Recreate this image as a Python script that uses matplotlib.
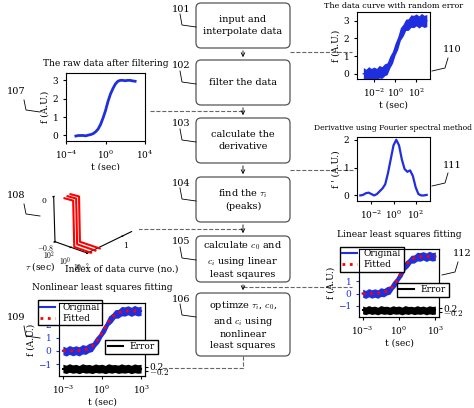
import numpy as np
import matplotlib
matplotlib.use("Agg")
import matplotlib.pyplot as plt
from matplotlib.patches import FancyBboxPatch
from mpl_toolkits.mplot3d import Axes3D  # noqa

plt.rcParams['font.family'] = 'DejaVu Serif'
plt.rcParams['mathtext.fontset'] = 'cm'
plt.rcParams['font.size'] = 6.5
plt.rcParams['xtick.major.size'] = 2
plt.rcParams['ytick.major.size'] = 2

W, H = 474, 408
# ---- data ----
logt = [-3, -2.75, -2.5, -2.25, -2, -1.75, -1.5, -1.25, -1, -0.75, -0.5, -0.25, 0,
        0.25, 0.5, 0.75, 1, 1.25, 1.5, 1.75, 2, 2.25, 2.5, 2.75, 3]
f_vals = [0, 0, 0, 0, 0, 0.02, 0.05, 0.1, 0.2, 0.35, 0.6, 0.95, 1.35, 1.8, 2.2,
          2.5, 2.72, 2.86, 2.94, 2.98, 3, 3, 3, 3, 3]
filt_vals = [-0.03, 0, 0, 0, -0.02, 0.02, 0.05, 0.1, 0.2, 0.35, 0.6, 0.95, 1.35,
             1.85, 2.25, 2.55, 2.8, 2.95, 3.0, 3.0, 2.98, 3.0, 3.0, 2.97, 2.95]
deriv_vals = [0, 0.02, 0.08, 0.1, 0.05, 0, 0.05, 0.15, 0.25, 0.4, 0.8, 1.3, 1.8,
              2.0, 1.8, 1.3, 0.95, 0.85, 0.9, 0.7, 0.3, 0.05, 0, 0, 0.02]
noise_up = [0.35, 0.25, 0.4, 0.3, 0.38, 0.28, 0.42, 0.3, 0.36, 0.27, 0.4, 0.32, 0.38,
            0.29, 0.41, 0.3, 0.37, 0.26, 0.4, 0.33, 0.39, 0.28, 0.42, 0.31, 0.36]
noise_dn = [0.3, 0.4, 0.27, 0.38, 0.3, 0.41, 0.29, 0.37, 0.32, 0.4, 0.28, 0.36, 0.3,
            0.42, 0.3, 0.38, 0.27, 0.4, 0.31, 0.37, 0.29, 0.41, 0.3, 0.38, 0.33]
err_up = [0.45, 0.35, 0.5, 0.38, 0.44, 0.32, 0.5, 0.4, 0.43, 0.34, 0.48, 0.39, 0.45,
          0.33, 0.5, 0.4, 0.42, 0.36, 0.49, 0.38, 0.45, 0.34, 0.48, 0.4, 0.44]
err_dn = [0.4, 0.48, 0.36, 0.46, 0.4, 0.5, 0.37, 0.45, 0.41, 0.49, 0.38, 0.44, 0.4,
          0.5, 0.39, 0.46, 0.37, 0.48, 0.41, 0.45, 0.38, 0.5, 0.4, 0.46, 0.42]
boxes = [("101", 3, 48, "input and\ninterpolate data"),
         ("102", 60, 105, "filter the data"),
         ("103", 118, 163, "calculate the\nderivative"),
         ("104", 177, 222, "find the $\\tau_i$\n(peaks)"),
         ("105", 236, 282, "calculate $c_0$ and\n$c_i$ using linear\nleast sqaures"),
         ("106", 293, 356, "optimze $\\tau_i$, $c_0$,\nand $c_i$ using\nnonlinear\nleast squares")]
side_labels = [("107", 16, 92), ("108", 16, 196), ("109", 16, 318),
               ("110", 452, 50), ("111", 452, 165), ("112", 462, 254)]
tau_peaks = [[-0.2, 0.6], [0.0, 0.8], [0.2, 1.0]]

t = 10.0 ** np.array(logt)
f = np.array(f_vals)
nu, nd = np.array(noise_up), np.array(noise_dn)
eu, ed = np.array(err_up), np.array(err_dn)

fig = plt.figure(figsize=(W / 100, H / 100), dpi=100)

def px(x0, y0, x1, y1):
    return [x0 / W, 1 - y1 / H, (x1 - x0) / W, (y1 - y0) / H]

ov = fig.add_axes([0, 0, 1, 1], zorder=0)
ov.set_xlim(0, W); ov.set_ylim(H, 0); ov.axis('off')
for lab, y0, y1, txt in boxes:
    ov.add_patch(FancyBboxPatch((196, y0), 94, y1 - y0, boxstyle="round,pad=0,rounding_size=5",
                                fc='white', ec='#555555', lw=0.9))
    ov.text(243, (y0 + y1) / 2, txt, ha='center', va='center', fontsize=7, linespacing=1.3)
    ov.text(172, y0 + 6, lab, ha='left', va='center', fontsize=7)
    ov.plot([180, 182, 196], [y0 + 11, y0 + 22, y0 + 24], color='k', lw=0.6)
for a, b in zip(boxes[:-1], boxes[1:]):
    ov.annotate("", xy=(243, b[1]), xytext=(243, a[2]),
                arrowprops=dict(arrowstyle='->', lw=0.6, color='k'))
for lab, x, y in side_labels:
    ov.text(x, y, lab, ha='center', va='center', fontsize=7)
dash = dict(color='#666666', lw=0.8, ls='--')
ov.plot([150, 243], [111, 111], **dash)
ov.plot([290, 352], [52, 52], **dash)
ov.plot([290, 355], [170, 170], **dash)
ov.plot([138, 243], [229, 229], **dash)
ov.plot([243, 352], [287, 287], **dash)
ov.plot([243, 243, 162], [356, 368, 368], **dash)
for (x0, y0, x1, y1) in [(24, 100, 40, 110), (24, 204, 40, 214), (24, 326, 40, 336)]:
    ov.plot([x0, x0 + 2, x1], [y0, y1, y1 + 2], color='k', lw=0.6)
for (x0, y0) in [(448, 58), (448, 173), (458, 262)]:
    ov.plot([x0, x0 - 3, x0 - 16], [y0, y0 + 10, y0 + 13], color='k', lw=0.6)

blue = '#1f2fe0'

# 107
a = fig.add_axes(px(66, 73, 145, 141))
a.plot(t, filt_vals, color=blue, lw=2)
a.set_xscale('log'); a.set_xlim(10**-4, 10**4); a.set_xticks([1e-4, 1, 1e4])
a.minorticks_off()
a.set_ylim(-0.3, 3.4); a.set_yticks([0, 1, 2, 3])
a.set_title("The raw data after filtering", fontsize=6.5, pad=5)
a.set_xlabel("t (sec)", labelpad=1); a.set_ylabel("f (A.U.)", labelpad=2)

# 110
a = fig.add_axes(px(357, 12, 430, 79))
a.fill_between(t, f - nd, f + nu, color=blue, lw=0)
a.plot(t, f, color=blue, lw=1)
a.set_xscale('log'); a.set_xlim(10**-3.6, 10**3.3); a.set_xticks([1e-2, 1, 1e2])
a.minorticks_off()
a.set_ylim(-0.3, 3.5); a.set_yticks([0, 1, 2, 3])
a.set_title("The data curve with random error", fontsize=5.8, pad=3)
a.set_xlabel("t (sec)", labelpad=1); a.set_ylabel("f (A.U.)", labelpad=2)

# 111
a = fig.add_axes(px(357, 137, 430, 201))
a.plot(t, deriv_vals, color=blue, lw=1.6)
a.set_xscale('log'); a.set_xlim(10**-3.3, 10**3.3); a.set_xticks([1e-2, 1, 1e2])
a.minorticks_off()
a.set_ylim(-0.2, 2.1); a.set_yticks([0, 1, 2])
a.set_title("Derivative using Fourier spectral method", fontsize=5.5, pad=5)
a.set_ylabel("f ' (A.U.)", labelpad=2)

# 3D 108 (x = index, y = log tau, z = value)
a3 = fig.add_axes(px(18, 170, 168, 262), projection='3d')
for i, (p0, p1) in enumerate(tau_peaks):
    taus = [-2.2, p0, p0 + 0.05, p1, p1 + 0.3]
    zs = [-0.8, -0.8, 0.0, 0.0, 0.0]
    a3.plot([0.05 + i * 0.12] * 5, taus, zs, color='red', lw=1.5)
a3.set_ylim(-2, 2); a3.set_xlim(0, 1.3); a3.set_zlim(-0.8, 0)
a3.set_yticks([-2, 0, 2]); a3.set_yticklabels(['$10^{-2}$', '$10^{0}$', '$10^{2}$'], fontsize=5.5)
a3.set_xticks([1]); a3.set_xticklabels(['1'], fontsize=5.5)
a3.set_zticks([-0.8, 0]); a3.set_zticklabels(['$-0.8$', '0'], fontsize=5.5)
a3.tick_params(pad=-4)
a3.grid(False)
a3.set_box_aspect((1.5, 0.9, 1))
for ax_ in (a3.xaxis, a3.yaxis, a3.zaxis):
    ax_.set_pane_color((1, 1, 1, 0))
a3.view_init(elev=20, azim=-140)
ov.text(40, 270, "$\\tau$ (sec)", fontsize=6.5, ha='center')
ov.text(122, 272, "Index of data curve (no.)", fontsize=6.5, ha='center')

def fit_panel(box, title, leg_x, err_x):
    a = fig.add_axes(px(*box), zorder=2)
    a.fill_between(t, f - nd, f + nu, color=blue, lw=0)
    l1, = a.plot(t, f, color=blue, lw=1.5, label='Original')
    l2, = a.plot(t, f, color='red', ls=':', lw=2, label='Fitted')
    a.set_xscale('log'); a.set_xlim(10**-3.3, 10**3.3); a.set_xticks([1e-3, 1, 1e3])
    a.minorticks_off()
    a.set_ylim(-1.9, 3.6); a.set_yticks([-1, 0, 1, 2])
    a.tick_params(axis='y', colors=blue, labelcolor=blue)
    a.spines['left'].set_color(blue)
    a.set_title(title, fontsize=6.5, pad=9)
    a.set_xlabel("t (sec)", labelpad=1); a.set_ylabel("f (A.U.)", labelpad=2)
    a.legend(handles=[l1, l2], loc='upper left', bbox_to_anchor=(leg_x, 1.1), fontsize=6.5,
             fancybox=False, edgecolor='k', handlelength=1.6, borderpad=0.3, labelspacing=0.2,
             framealpha=1)
    b = a.twinx()
    b.fill_between(t, -ed, eu, color='k', lw=0)
    l3, = b.plot(t, np.zeros(len(t)), color='k', lw=1.5, label='Error')
    b.set_ylim(-0.733, 6.6); b.set_yticks([-0.2, 0.2]); b.set_yticklabels(['$-0.2$', '0.2'])
    b.tick_params(axis='y', pad=1, length=2)
    b.legend(handles=[l3], loc='center right', bbox_to_anchor=(err_x, 0.4), fontsize=6.5,
             fancybox=False, edgecolor='k', handlelength=1.6, borderpad=0.3, framealpha=1)

fit_panel((359, 249, 439, 317), "Linear least squares fitting", -0.3, 1.18)
fit_panel((59, 303, 145, 376), "Nonlinear least squares fitting", -0.3, 1.2)

fig.savefig("out.png", dpi=100)
